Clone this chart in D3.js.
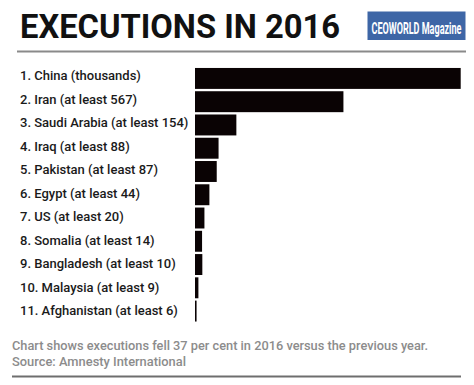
<!DOCTYPE html>
<html><head><meta charset="utf-8">
<script src="https://cdn.jsdelivr.net/npm/d3@7"></script>
<style>body{margin:0;background:#fff}svg{display:block}</style>
</head><body>
<svg id="c" width="474" height="385"></svg>
<script>
const categories = ["1. China (thousands)","2. Iran (at least 567)","3. Saudi Arabia (at least 154)","4. Iraq (at least 88)","5. Pakistan (at least 87)","6. Egypt (at least 44)","7. US (at least 20)","8. Somalia (at least 14)","9. Bangladesh (at least 10)","10. Malaysia (at least 9)","11. Afghanistan (at least 6)"];
const barValues = [1015, 567, 158, 90, 83, 55, 36, 27, 28, 13, 6];
const title = "EXECUTIONS IN 2016";
const footnotes = ["Chart shows executions fell 37 per cent in 2016 versus the previous year.","Source: Amnesty International"];
const footWidths = [416, 174];

const svg = d3.select("#c");
const x = d3.scaleLinear().domain([0, 1015]).range([195, 460.7]);
const y = d3.scaleBand().domain(categories).range([67.5, 322]).paddingInner(0.1).paddingOuter(0.02);
const yl = d3.scalePoint().domain(categories).range([75.5, 310.5]);

svg.append("text").attr("x",20).attr("y",37.5).text(title)
  .attr("font-family","Roboto").attr("font-weight",700).attr("font-size",33)
  .attr("textLength",320).attr("lengthAdjust","spacingAndGlyphs").attr("fill","#111");

svg.append("rect").attr("x",367.5).attr("y",11.5).attr("width",98).attr("height",28.5).attr("fill","#3e66a6");
const lg = svg.append("g");
const lt = lg.append("text").attr("x",0).attr("y",0).text("CEOWORLD Magazine")
  .attr("font-family","Roboto").attr("font-weight",700).attr("font-size",16.5)
  .attr("fill","#fff");
const lw = lt.node().getComputedTextLength();
lg.attr("transform",`translate(371.5,33.5) scale(${90/lw},1)`);

svg.append("line").attr("x1",17).attr("x2",466).attr("y1",51.5).attr("y2",51.5).attr("stroke","#8a8a8a").attr("stroke-width",2.2);

svg.selectAll("rect.bar").data(categories).join("rect").attr("class","bar")
  .attr("x", x(0)).attr("y", d=>y(d)).attr("height", y.bandwidth())
  .attr("width",(d,i)=>x(barValues[i])-x(0)).attr("fill","#0a0304");

svg.selectAll("text.lab").data(categories).join("text").attr("class","lab")
  .attr("x",20).attr("y",d=>yl(d)).attr("dy","0.35em").text(d=>d)
  .attr("font-family","Roboto").attr("font-weight",500).attr("font-size",13).attr("fill","#1a1a1a");

svg.selectAll("text.foot").data(footnotes).join("text").attr("class","foot")
  .attr("x",12).attr("y",(d,i)=>350+i*15.5).text(d=>d)
  .attr("textLength",(d,i)=>footWidths[i]).attr("lengthAdjust","spacingAndGlyphs")
  .attr("font-family","Roboto").attr("font-weight",500).attr("font-size",12.8).attr("fill","#8c8c8c");

svg.append("line").attr("x1",12).attr("x2",461).attr("y1",376.5).attr("y2",376.5).attr("stroke","#6e6e6e").attr("stroke-width",2);
</script>
</body></html>
